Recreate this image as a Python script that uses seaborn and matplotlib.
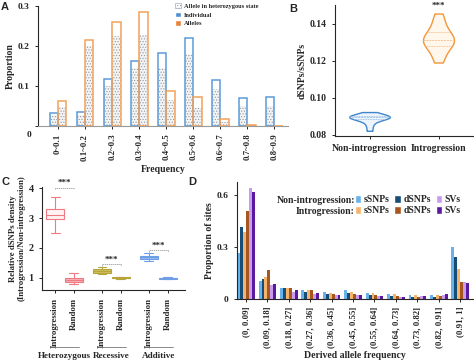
import numpy as np
import pandas as pd
import matplotlib
matplotlib.use("Agg")
import matplotlib.pyplot as plt
import matplotlib.transforms as mtrans
import seaborn as sns
from matplotlib.patches import Patch

sns.set_style("ticks")
plt.rcParams['font.family'] = ['Liberation Serif', 'DejaVu Serif']
plt.rcParams['font.weight'] = 'bold'
plt.rcParams['axes.labelweight'] = 'bold'
plt.rcParams['hatch.linewidth'] = 0.5
plt.rcParams['axes.linewidth'] = 0.8
plt.rcParams['xtick.major.width'] = 0.7
plt.rcParams['ytick.major.width'] = 0.7
plt.rcParams['xtick.major.size'] = 2.5
plt.rcParams['ytick.major.size'] = 2.5

# ---------------- Panel A data ----------------
freq_bins = ['0~0.1', '0.1~0.2', '0.2~0.3', '0.3~0.4', '0.4~0.5',
             '0.5~0.6', '0.6~0.7', '0.7~0.8', '0.8~0.9']
individual_total = [0.033, 0.034, 0.117, 0.162, 0.183, 0.221, 0.115, 0.070, 0.073]
individual_het = [0.027, 0.028, 0.100, 0.144, 0.146, 0.180, 0.092, 0.050, 0.050]
alleles_total = [0.063, 0.214, 0.261, 0.286, 0.088, 0.073, 0.018, 0.002, 0.0]
alleles_het = [0.048, 0.200, 0.226, 0.227, 0.065, 0.044, 0.011, 0.0, 0.0]

# ---------------- Panel B data ----------------
b_groups = ['Non-introgression', 'Introgression']
ratio_non_introgression = [0.0822, 0.0850, 0.0872, 0.0884, 0.0890, 0.0893, 0.0895,
                           0.0897, 0.0899, 0.0901, 0.0904, 0.0910, 0.0923]
ratio_introgression = [0.1190, 0.1212, 0.1240, 0.1262, 0.1275, 0.1285, 0.1295, 0.1303,
                       0.1310, 0.1316, 0.1325, 0.1335, 0.1346, 0.1358, 0.1378, 0.1402,
                       0.1428, 0.1454]

# ---------------- Panel C data (min, q1, median, q3, max) ----------------
c_groups = ['Heterozygous', 'Recessive', 'Additive']
c_types = ['Introgression', 'Random']
het_introgression = [2.52, 2.97, 3.12, 3.30, 3.72]
het_random = [0.78, 0.87, 0.94, 1.00, 1.17]
rec_introgression = [1.11, 1.17, 1.23, 1.29, 1.36]
rec_random = [0.97, 0.99, 1.00, 1.01, 1.03]
add_introgression = [1.57, 1.63, 1.69, 1.74, 1.83]
add_random = [0.95, 0.97, 0.98, 0.99, 1.03]

# ---------------- Panel D data ----------------
daf_bins = ['(0, 0.09]', '(0.09, 0.18]', '(0.18, 0.27]', '(0.27, 0.36]',
            '(0.36, 0.45]', '(0.45, 0.55]', '(0.55, 0.64]', '(0.64, 0.73]',
            '(0.73, 0.82]', '(0.82, 0.91]', '(0.91, 1]']
ni_ssnps = [0.266, 0.103, 0.065, 0.052, 0.042, 0.054, 0.034, 0.029, 0.023, 0.023, 0.300]
ni_dsnps = [0.411, 0.113, 0.065, 0.042, 0.031, 0.034, 0.021, 0.017, 0.013, 0.013, 0.243]
in_ssnps = [0.384, 0.128, 0.065, 0.052, 0.034, 0.038, 0.034, 0.027, 0.021, 0.021, 0.172]
in_dsnps = [0.507, 0.164, 0.065, 0.054, 0.029, 0.031, 0.025, 0.015, 0.012, 0.015, 0.099]
ni_svs = [0.639, 0.080, 0.042, 0.031, 0.023, 0.021, 0.017, 0.012, 0.015, 0.023, 0.099]
in_svs = [0.616, 0.084, 0.050, 0.036, 0.023, 0.021, 0.017, 0.013, 0.015, 0.027, 0.094]

W, H = 474, 361
fig = plt.figure(figsize=(W / 100, H / 100), dpi=100)


def ax_px(left, top, right, bottom):
    return fig.add_axes([left / W, 1 - bottom / H, (right - left) / W, (bottom - top) / H])


tick_fs = 6.3
lab_fs = 7

# ================= Panel A =================
axA = ax_px(38, 6, 288, 126)
blueA, orangeA = '#5B9BD8', '#F3A25A'
dfA_het = pd.DataFrame({'bin': freq_bins * 2,
                        'type': ['Individual'] * 9 + ['Alleles'] * 9,
                        'value': individual_het + alleles_het})
dfA_tot = pd.DataFrame({'bin': freq_bins * 2,
                        'type': ['Individual'] * 9 + ['Alleles'] * 9,
                        'value': individual_total + alleles_total})
sns.barplot(data=dfA_het, x='bin', y='value', hue='type', order=freq_bins,
            hue_order=['Individual', 'Alleles'], palette=['white', 'white'],
            width=0.62, errorbar=None, legend=False, saturation=1, ax=axA)
for p in axA.patches:
    p.set_facecolor('#f4f4f4')
    p.set_hatch('......')
    p.set_edgecolor('#8f9aa8')
    p.set_linewidth(0)
sns.barplot(data=dfA_tot, x='bin', y='value', hue='type', order=freq_bins,
            hue_order=['Individual', 'Alleles'], palette=[blueA, orangeA],
            fill=False, linewidth=1.1, width=0.62, errorbar=None, legend=False,
            saturation=1, ax=axA)
axA.set_xlim(-0.74, 8.5)
axA.set_ylim(0, 0.3)
axA.set_yticks([0, 0.1, 0.2, 0.3])
axA.set_yticklabels(['', '0.1', '0.2', '0.3'], fontsize=tick_fs + 0.5)
axA.tick_params(axis='x', rotation=90, labelsize=tick_fs, length=2)
for t in axA.get_xticklabels():
    t.set_fontweight('bold')
for t in axA.get_yticklabels():
    t.set_fontweight('bold')
axA.text(-0.036, -0.0225, '0', transform=mtrans.blended_transform_factory(axA.transAxes, axA.transData),
         ha='center', va='center', fontsize=tick_fs + 0.5, fontweight='bold', clip_on=False)
axA.set_xlabel('Frequency', fontsize=lab_fs, fontweight='bold', labelpad=3)
axA.set_ylabel('Proportion', fontsize=lab_fs, fontweight='bold', labelpad=2)
sns.despine(ax=axA)
axA.spines['bottom'].set_color('#9a9a9a')
legA = [Patch(facecolor='white', edgecolor='#8f9aa8', hatch='......', linewidth=0.4,
              label='Allele in heterozygous state'),
        Patch(facecolor='#4E8FD0', label='Individual'),
        Patch(facecolor='#E8833A', label='Alleles')]
fig.legend(handles=legA, loc='upper left', bbox_to_anchor=(175 / W, 1 - 3 / H),
           frameon=False, fontsize=4.6, handlelength=0.9, handleheight=0.9,
           handletextpad=0.5, labelspacing=0.45, borderpad=0, borderaxespad=0)

# ================= Panel B =================
axB = ax_px(335, 5, 473, 136)
dfB = pd.DataFrame({'group': ['Non-introgression'] * len(ratio_non_introgression)
                    + ['Introgression'] * len(ratio_introgression),
                    'value': ratio_non_introgression + ratio_introgression})
sns.violinplot(data=dfB[dfB.group == 'Non-introgression'], x='group', y='value', order=b_groups,
               color='#EEF4FB', linecolor='#3F86CC', linewidth=1.0, width=0.59, cut=0,
               inner='quart', density_norm='width', bw_adjust=0.9, saturation=1,
               inner_kws={'color': '#9CC0E6', 'linewidth': 0.6}, ax=axB)
sns.violinplot(data=dfB[dfB.group == 'Introgression'], x='group', y='value', order=b_groups,
               color='#FFF6EC', linecolor='#F2963A', linewidth=1.0, width=0.45, cut=0,
               inner='quart', density_norm='width', bw_adjust=0.9, saturation=1,
               inner_kws={'color': '#F7C08A', 'linewidth': 0.6}, ax=axB)
axB.set_xlim(-0.5, 1.5)
axB.set_ylim(0.0794, 0.150)
axB.set_yticks([0.08, 0.10, 0.12, 0.14])
axB.set_yticklabels(['0.08', '0.10', '0.12', '0.14'], fontsize=tick_fs + 0.7, fontweight='bold')
axB.set_xticks([0, 1])
axB.set_xticklabels(b_groups, fontsize=lab_fs, fontweight='bold')
axB.set_xlabel('')
axB.set_ylabel('dSNPs/sSNPs', fontsize=lab_fs, fontweight='bold', labelpad=2)
axB.text(1, max(ratio_introgression) + 0.0018, '***', ha='center', va='bottom', fontsize=6.5,
         fontweight='bold')
sns.despine(ax=axB)

# ================= Panel C =================
axC = ax_px(42, 187, 185, 290)
c_data = {('Heterozygous', 'Introgression'): het_introgression,
          ('Heterozygous', 'Random'): het_random,
          ('Recessive', 'Introgression'): rec_introgression,
          ('Recessive', 'Random'): rec_random,
          ('Additive', 'Introgression'): add_introgression,
          ('Additive', 'Random'): add_random}
rows = []
for (g, t), vals in c_data.items():
    for v in vals:
        rows.append((g, t, v))
dfC = pd.DataFrame(rows, columns=['group', 'type', 'value'])
c_styles = {'Heterozygous': (['#FFF3F3', '#F7B4BA'], '#EE7A83', 0.31),
            'Recessive': (['#CFC060', '#CFC060'], '#B5A53A', 0.09),
            'Additive': (['#93BCF2', '#93BCF2'], '#6E9FE6', 0.10)}
for g in c_groups:
    fills, edge, _ = c_styles[g]
    sns.boxplot(data=dfC[dfC.group == g], x='group', y='value', hue='type', order=c_groups,
                hue_order=c_types, palette=fills, linecolor=edge, linewidth=0.8,
                width=0.8, gap=0.05, dodge=True, whis=(0, 100), showfliers=False,
                saturation=1, legend=False, ax=axC)
axC.set_xlim(-0.48, 2.57)
axC.set_ylim(0.587, 4.05)
axC.set_yticks([1, 2, 3, 4])
axC.set_yticklabels(['1', '2', '3', '4'], fontsize=tick_fs + 1, fontweight='bold')
pos = []
for i in range(len(c_groups)):
    pos += [i - 0.2, i + 0.2]
axC.set_xticks(pos)
axC.set_xticklabels(c_types * len(c_groups), rotation=90, fontsize=tick_fs, fontweight='bold')
axC.set_xlabel('')
axC.set_ylabel('Relative dSNPs density\n(Introgression/Non-introgression)',
               fontsize=6.3, fontweight='bold', labelpad=2, linespacing=1.2)
sns.despine(ax=axC)
blend = mtrans.blended_transform_factory(axC.transData, axC.transAxes)
for i, g in enumerate(c_groups):
    axC.plot([i - 0.31, i + 0.31], [-0.555, -0.555], color='#777777', lw=0.6,
             transform=blend, clip_on=False)
    axC.text(i, -0.645, g, transform=blend, ha='center', va='center', fontsize=6.6,
             fontweight='bold')
    top = max(c_data[(g, 'Introgression')] + c_data[(g, 'Random')])
    yb = top + c_styles[g][2]
    tick = 0.06
    axC.plot([i - 0.2, i - 0.2, i + 0.2, i + 0.2], [yb - tick, yb, yb, yb - tick],
             color='#888888', lw=0.5, ls=(0, (2, 1)), clip_on=False)
    axC.text(i, yb + 0.02, '***', ha='center', va='bottom', fontsize=6.5,
             fontweight='bold', clip_on=False)

# ================= Panel D =================
axD = ax_px(237, 182, 473, 299)
series_names = ['Non-introgression sSNPs', 'Non-introgression dSNPs',
                'Introgression sSNPs', 'Introgression dSNPs',
                'Non-introgression SVs', 'Introgression SVs']
series_vals = [ni_ssnps, ni_dsnps, in_ssnps, in_dsnps, ni_svs, in_svs]
series_cols = ['#68B3EA', '#174D79', '#F5B46C', '#A6561F', '#C99CEE', '#5B1A9E']
dfD = pd.DataFrame({'bin': daf_bins * len(series_names),
                    'series': np.repeat(series_names, len(daf_bins)),
                    'value': np.concatenate(series_vals)})
sns.barplot(data=dfD, x='bin', y='value', hue='series', order=daf_bins,
            hue_order=series_names, palette=series_cols, width=0.82, gap=0,
            errorbar=None, legend=False, saturation=1, linewidth=0, ax=axD)
axD.set_xlim(-0.42, 10.6)
axD.set_ylim(0, 0.672)
axD.set_yticks([0, 0.3, 0.6])
axD.set_yticklabels(['0', '0.3', '0.6'], fontsize=tick_fs + 0.5, fontweight='bold')
axD.tick_params(axis='x', rotation=90, labelsize=tick_fs, length=2)
for t in axD.get_xticklabels():
    t.set_fontweight('bold')
axD.set_xlabel('Derived allele frequency', fontsize=lab_fs, fontweight='bold', labelpad=2)
axD.set_ylabel('Proportion of sites', fontsize=lab_fs, fontweight='bold', labelpad=2)
sns.despine(ax=axD)

legD_handles = [Patch(facecolor=series_cols[0]), Patch(facecolor=series_cols[2]),
                Patch(facecolor=series_cols[1]), Patch(facecolor=series_cols[3]),
                Patch(facecolor=series_cols[4]), Patch(facecolor=series_cols[5])]
legD_labels = ['sSNPs', 'sSNPs', 'dSNPs', 'dSNPs', 'SVs', 'SVs']
fig.legend(handles=legD_handles, labels=legD_labels, ncol=3, loc='upper left',
           bbox_to_anchor=(355 / W, 1 - 194.5 / H), frameon=False, fontsize=7,
           handlelength=0.65, handleheight=0.9, handletextpad=0.3, columnspacing=0.45,
           labelspacing=0.2, borderpad=0, borderaxespad=0)
fig.text(355 / W, 1 - 200.5 / H, 'Non-introgression:', ha='right', va='center', fontsize=7,
         fontweight='bold')
fig.text(355 / W, 1 - 211.5 / H, 'Introgression:', ha='right', va='center', fontsize=7,
         fontweight='bold')

# panel letters
for letter, x, y in [('A', 1, 7), ('B', 289, 9), ('C', 1, 182), ('D', 188, 182)]:
    fig.text(x / W, 1 - y / H, letter, ha='left', va='center', fontsize=8, fontweight='bold',
             family=['Liberation Sans', 'DejaVu Sans'])

fig.savefig('out.png', dpi=100)
